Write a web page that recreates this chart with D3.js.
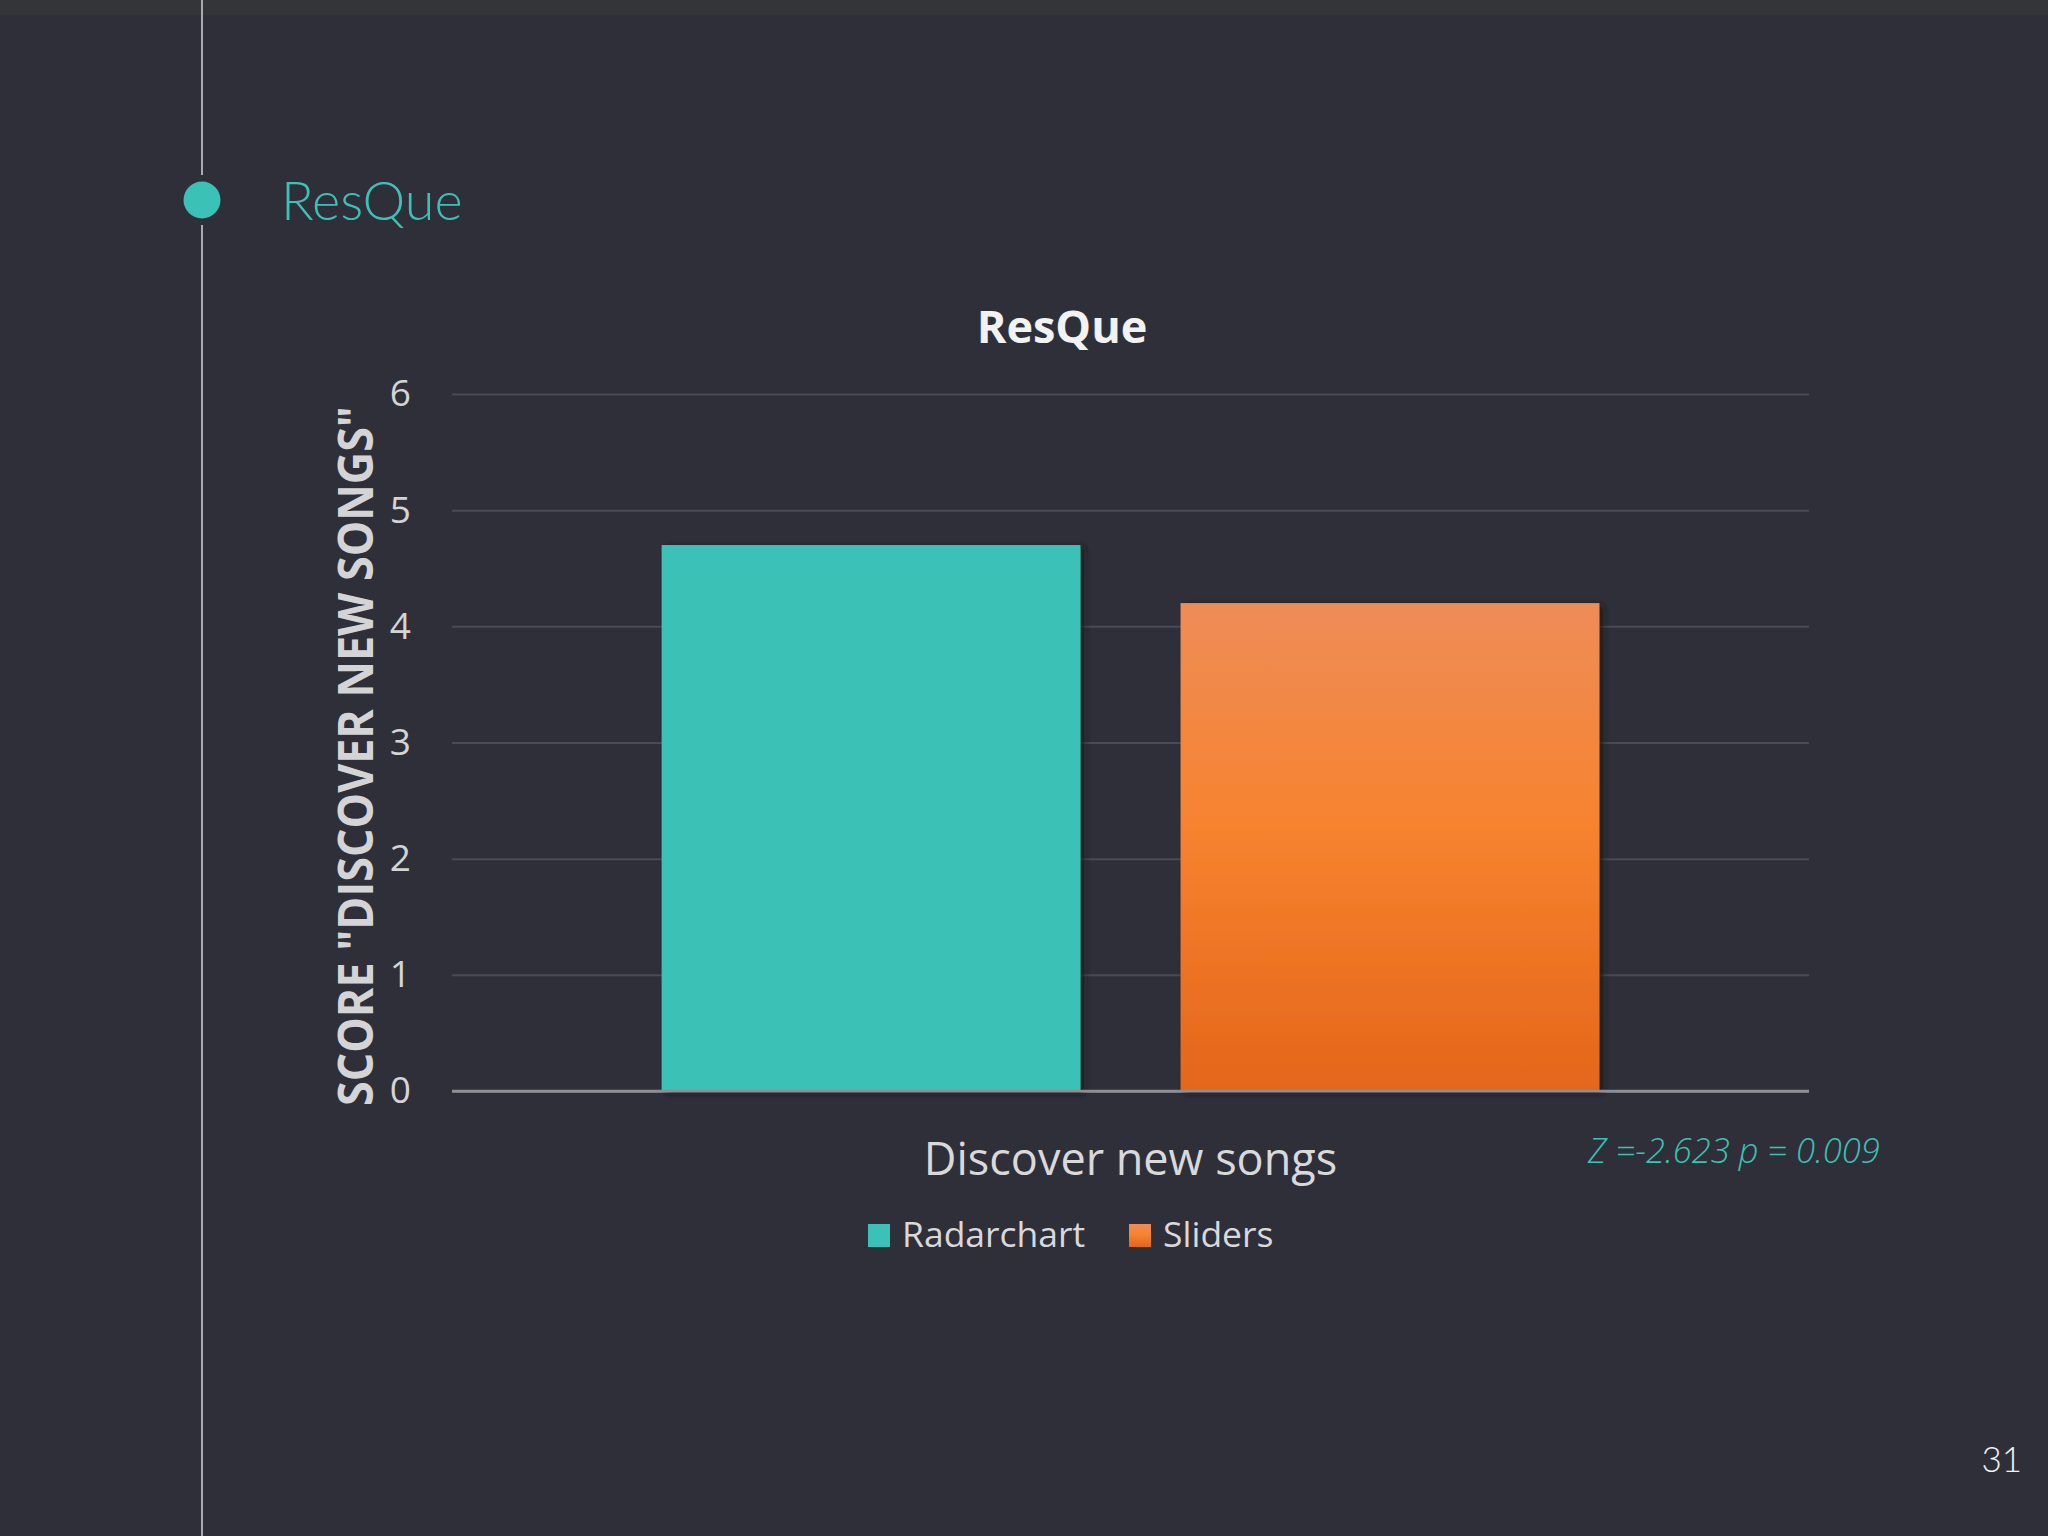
<!DOCTYPE html>
<html>
<head>
<meta charset="utf-8">
<script src="https://cdn.jsdelivr.net/npm/d3@7"></script>
<style>
  html, body { margin: 0; padding: 0; background: #2f2f39; }
  svg { display: block; }
</style>
</head>
<body>
<svg id="chart" width="2048" height="1536"></svg>
<script>
// data
var categories = ['Discover new songs'];
var seriesNames = ['Radarchart', 'Sliders'];
var seriesValues = [4.7, 4.2];
var yTicks = [0, 1, 2, 3, 4, 5, 6];

var slideTitle = 'ResQue';
var chartTitle = 'ResQue';
var yTitle = 'SCORE "DISCOVER NEW SONGS"';
var statText = 'Z =-2.623 p = 0.009';
var pageNumber = '31';

var svg = d3.select('#chart');
var defs = svg.append('defs');

// orange bars fade from a pale top into a deeper bottom
var grad = defs.append('linearGradient')
  .attr('id', 'orangeGrad')
  .attr('x1', 0).attr('y1', 0).attr('x2', 0).attr('y2', 1);
grad.append('stop').attr('offset', '0%').attr('stop-color', '#ee8c58');
grad.append('stop').attr('offset', '45%').attr('stop-color', '#f7832f');
grad.append('stop').attr('offset', '100%').attr('stop-color', '#e4661a');

defs.append('filter')
  .attr('id', 'barShadow')
  .attr('x', '-10%').attr('y', '-10%').attr('width', '130%').attr('height', '130%')
  .append('feDropShadow')
  .attr('dx', 4).attr('dy', 2)
  .attr('stdDeviation', 3)
  .attr('flood-color', '#17171d')
  .attr('flood-opacity', 0.8);

var fills = { Radarchart: '#3bc1b6', Sliders: 'url(#orangeGrad)' };

// slide background
svg.append('rect').attr('width', 2048).attr('height', 1536).attr('fill', '#2f2f39');
svg.append('rect').attr('width', 2048).attr('height', 15).attr('fill', '#333539');

// timeline on the left with the section dot
svg.append('line')
  .attr('x1', 202).attr('x2', 202)
  .attr('y1', 0).attr('y2', 1536)
  .attr('stroke', '#a9a9ae').attr('stroke-width', 2);
// gap in the line round the dot
svg.append('circle')
  .attr('cx', 202).attr('cy', 200).attr('r', 25)
  .attr('fill', '#2f2f39');
svg.append('circle')
  .attr('cx', 202).attr('cy', 200).attr('r', 18.5)
  .attr('fill', '#3bc1b6');

svg.append('text')
  .attr('x', 281).attr('y', 220)
  .attr('font-family', 'Lato, "Noto Sans", sans-serif')
  .attr('font-weight', 300)
  .attr('font-size', 54)
  .attr('fill', '#3bc1b6')
  .text(slideTitle);

svg.append('text')
  .attr('x', 2022).attr('y', 1472)
  .attr('text-anchor', 'end')
  .attr('font-family', 'Lato, "Noto Sans", sans-serif')
  .attr('font-weight', 300)
  .attr('font-size', 35)
  .attr('fill', '#f2f2f2')
  .text(pageNumber);

// plot area
var plot = { left: 452, right: 1809, top: 394, bottom: 1091 };

var y = d3.scaleLinear()
  .domain([0, 6])
  .range([plot.bottom, plot.top]);

var x0 = d3.scaleBand()
  .domain(categories)
  .range([plot.left, plot.right]);

var x1 = d3.scaleBand()
  .domain(seriesNames)
  .range([x0(categories[0]), x0(categories[0]) + x0.bandwidth()])
  .paddingInner(0.193)
  .paddingOuter(0.404);

var font = '"Open Sans", "Noto Sans", sans-serif';

// gridlines
var yAxis = d3.axisLeft(y)
  .tickValues(yTicks)
  .tickSize(-(plot.right - plot.left))
  .tickPadding(41)
  .tickFormat(d3.format('d'));

var gy = svg.append('g')
  .attr('transform', 'translate(' + plot.left + ',0)')
  .call(yAxis);
gy.select('.domain').remove();
gy.selectAll('.tick line')
  .attr('stroke', function(d) { return d === 0 ? '#8e8e93' : '#4a4b54'; })
  .attr('stroke-width', function(d) { return d === 0 ? 2.5 : 2; });
gy.selectAll('.tick text')
  .attr('font-family', font)
  .attr('font-weight', 400)
  .attr('font-size', 37)
  .attr('fill', '#d4d4d6');

// bars
var bars = svg.append('g');
bars.selectAll('rect')
  .data(seriesNames.map(function(name, i) { return { name: name, value: seriesValues[i] }; }))
  .enter()
  .append('rect')
  .attr('x', function(d) { return x1(d.name); })
  .attr('y', function(d) { return y(d.value); })
  .attr('width', x1.bandwidth())
  .attr('height', function(d) { return y(0) - y(d.value); })
  .attr('fill', function(d) { return fills[d.name]; })
  .attr('filter', 'url(#barShadow)');

// redraw baseline over the bars
svg.append('line')
  .attr('x1', plot.left).attr('x2', plot.right)
  .attr('y1', y(0)).attr('y2', y(0))
  .attr('stroke', '#8e8e93').attr('stroke-width', 2.5);

// titles
svg.append('text')
  .attr('x', 1062).attr('y', 343)
  .attr('text-anchor', 'middle')
  .attr('font-family', font)
  .attr('font-weight', 700)
  .attr('font-size', 45)
  .attr('fill', '#f2f2f2')
  .text(chartTitle);

svg.append('text')
  .attr('transform', 'translate(373,756) rotate(-90)')
  .attr('text-anchor', 'middle')
  .attr('font-family', font)
  .attr('font-weight', 700)
  .attr('font-size', 49)
  .attr('textLength', 700)
  .attr('lengthAdjust', 'spacingAndGlyphs')
  .attr('fill', '#d4d4d6')
  .text(yTitle);

// category label under the axis
svg.selectAll('.cat')
  .data(categories)
  .enter()
  .append('text')
  .attr('class', 'cat')
  .attr('x', function(d) { return x0(d) + x0.bandwidth() / 2; })
  .attr('y', 1175)
  .attr('text-anchor', 'middle')
  .attr('font-family', font)
  .attr('font-size', 45)
  .attr('fill', '#d9d9db')
  .text(function(d) { return d; });

svg.append('text')
  .attr('x', 1588).attr('y', 1163)
  .attr('font-family', font)
  .attr('font-weight', 300)
  .attr('font-style', 'italic')
  .attr('font-size', 34.5)
  .attr('fill', '#3bc1b6')
  .text(statText);

// legend
var legendX = [868, 1129];
var legend = svg.append('g');
var item = legend.selectAll('g')
  .data(seriesNames)
  .enter()
  .append('g')
  .attr('transform', function(d, i) { return 'translate(' + legendX[i] + ',1224)'; });
item.append('rect')
  .attr('width', 22).attr('height', 23)
  .attr('fill', function(d) { return fills[d]; });
item.append('text')
  .attr('x', 34).attr('y', 23)
  .attr('font-family', font)
  .attr('font-size', 35.5)
  .attr('fill', '#d9d9db')
  .text(function(d) { return d; });
</script>
</body>
</html>
